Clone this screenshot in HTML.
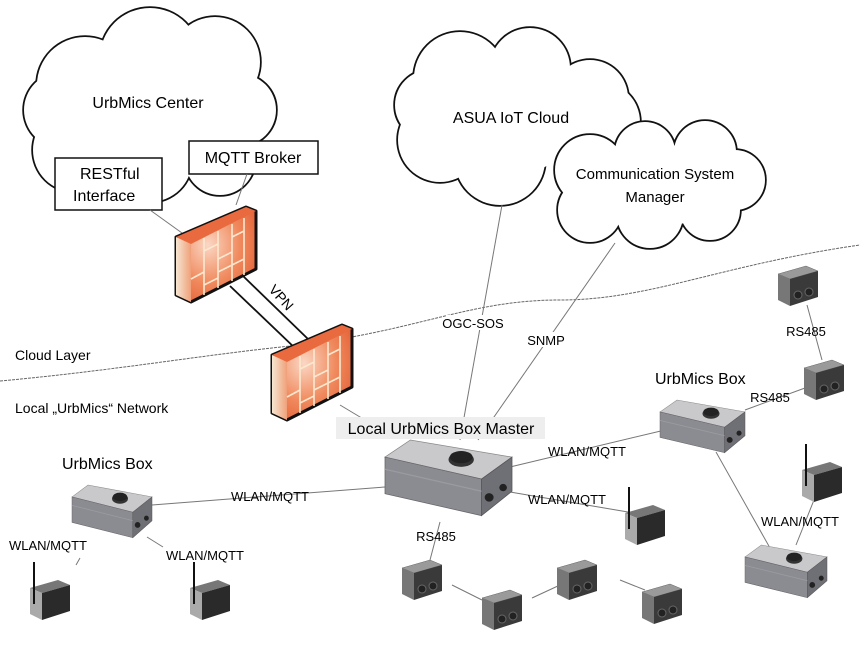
<!DOCTYPE html>
<html><head><meta charset="utf-8"><style>
html,body{margin:0;padding:0;background:#fff;}
svg{display:block;font-family:"Liberation Sans",sans-serif;}
</style></head><body>
<svg width="867" height="645" viewBox="0 0 867 645" xmlns="http://www.w3.org/2000/svg">
<defs>
<radialGradient id="fw" cx="0.4" cy="0.4" r="0.8">
<stop offset="0" stop-color="#fbd7c4"/><stop offset="0.5" stop-color="#f08a5e"/><stop offset="1" stop-color="#e0542a"/></radialGradient>
<linearGradient id="fwl" x1="0" x2="1"><stop offset="0" stop-color="#f6e6d2"/><stop offset="1" stop-color="#f0a07a"/></linearGradient>
<g id="firewall">
<polygon points="0,30 70,0 80,4 80,62 15,95 0,88" fill="url(#fw)" stroke="#111" stroke-width="3" stroke-linejoin="round"/>
<polygon points="0,30 15,37 15,95 0,88" fill="url(#fwl)"/>
<polygon points="0,30 70,0 80,4 15,37" fill="#e86a3e"/>
<g stroke="#fbe8d0" stroke-width="1.6" fill="none">
<line x1="28" y1="31" x2="28" y2="88"/><line x1="42" y1="24" x2="42" y2="81"/><line x1="56" y1="17" x2="56" y2="74"/><line x1="68" y1="11" x2="68" y2="68"/>
<line x1="28" y1="44" x2="42" y2="37"/><line x1="56" y1="30" x2="68" y2="24"/><line x1="42" y1="52" x2="56" y2="45"/><line x1="15" y1="72" x2="28" y2="65"/><line x1="56" y1="58" x2="68" y2="52"/><line x1="28" y1="78" x2="42" y2="71"/><line x1="42" y1="65" x2="56" y2="58"/>
</g>
</g>
<g id="bigbox">
<polygon points="0,14 20,0 100,14 76,32" fill="#c9c9cc" stroke="#888" stroke-width="0.6"/>
<polygon points="0,14 76,32 76,62 0,44" fill="#8b8b92" stroke="#666" stroke-width="0.6"/>
<polygon points="76,32 100,14 100,42 76,62" fill="#6f6f76" stroke="#555" stroke-width="0.6"/>
<line x1="0" y1="24" x2="76" y2="42" stroke="#9a9aa0"/>
<ellipse cx="60" cy="16" rx="10" ry="6" fill="#333"/><ellipse cx="60" cy="14" rx="9" ry="5" fill="#222"/>
<circle cx="82" cy="47" r="3.5" fill="#222"/><circle cx="93" cy="39" r="3" fill="#222"/>
</g>
<g id="sensor">
<polygon points="0,8 28,0 40,5 12,13" fill="#9a9a9a" stroke="#666" stroke-width="0.5"/>
<polygon points="0,8 12,13 12,40 0,34" fill="#777"/>
<polygon points="12,13 40,5 40,31 12,40" fill="#3a3a3a"/>
<circle cx="20" cy="29" r="4" fill="#222" stroke="#666"/><circle cx="31" cy="26" r="4" fill="#222" stroke="#666"/>
</g>
<g id="asensor">
<polygon points="0,8 28,0 40,5 12,13" fill="#777"/>
<polygon points="0,8 12,13 12,40 0,34" fill="#aaa"/>
<polygon points="12,13 40,5 40,31 12,40" fill="#2a2a2a"/>
<line x1="4" y1="-18" x2="4" y2="24" stroke="#111" stroke-width="2"/>
</g>
</defs>

<g stroke="#111" stroke-width="3.5" fill="#fff">
<circle cx="85" cy="85" r="48"/><circle cx="150" cy="58" r="50"/><circle cx="215" cy="62" r="45"/><circle cx="240" cy="110" r="36"/><circle cx="220" cy="160" r="35"/><circle cx="150" cy="160" r="42"/><circle cx="75" cy="150" r="42"/><circle cx="62" cy="110" r="38"/>
</g>
<g fill="#fff"><circle cx="85" cy="85" r="48"/><circle cx="150" cy="58" r="50"/><circle cx="215" cy="62" r="45"/><circle cx="240" cy="110" r="36"/><circle cx="220" cy="160" r="35"/><circle cx="150" cy="160" r="42"/><circle cx="75" cy="150" r="42"/><circle cx="62" cy="110" r="38"/><circle cx="150" cy="115" r="60"/></g>
<text x="148" y="108" font-size="16" text-anchor="middle">UrbMics Center</text>

<g stroke="#111" stroke-width="3.5" fill="#fff">
<circle cx="460" cy="78" r="46"/><circle cx="530" cy="68" r="40"/><circle cx="590" cy="98" r="38"/><circle cx="600" cy="122" r="40"/><circle cx="500" cy="160" r="45"/><circle cx="440" cy="140" r="42"/><circle cx="430" cy="105" r="35"/>
</g>
<g fill="#fff"><circle cx="460" cy="78" r="46"/><circle cx="530" cy="68" r="40"/><circle cx="590" cy="98" r="38"/><circle cx="600" cy="122" r="40"/><circle cx="500" cy="160" r="45"/><circle cx="440" cy="140" r="42"/><circle cx="430" cy="105" r="35"/><circle cx="515" cy="115" r="60"/></g>
<text x="511" y="123" font-size="16" text-anchor="middle">ASUA IoT Cloud</text>

<g stroke="#111" stroke-width="3.5" fill="#fff">
<circle cx="590" cy="170" r="35"/><circle cx="645" cy="152" r="30"/><circle cx="705" cy="152" r="31"/><circle cx="735" cy="180" r="30"/><circle cx="710" cy="210" r="30"/><circle cx="650" cy="215" r="33"/><circle cx="590" cy="210" r="32"/>
</g>
<g fill="#fff"><circle cx="590" cy="170" r="35"/><circle cx="645" cy="152" r="30"/><circle cx="705" cy="152" r="31"/><circle cx="735" cy="180" r="30"/><circle cx="710" cy="210" r="30"/><circle cx="650" cy="215" r="33"/><circle cx="590" cy="210" r="32"/><ellipse cx="660" cy="185" rx="80" ry="40"/></g>
<text x="655" y="179" font-size="15" text-anchor="middle">Communication System</text>
<text x="655" y="202" font-size="15" text-anchor="middle">Manager</text>

<rect x="55" y="158" width="107" height="52" fill="#fff" stroke="#111" stroke-width="1.5"/>
<text x="80" y="179" font-size="16">RESTful</text><text x="73" y="201" font-size="16">Interface</text>
<rect x="189" y="141" width="129" height="33" fill="#fff" stroke="#111" stroke-width="1.5"/>
<text x="253" y="163" font-size="16" text-anchor="middle">MQTT Broker</text>

<path d="M0,381 C120,370 200,355 300,345 C420,330 470,300 560,300 C650,300 720,265 860,245" fill="none" stroke="#666" stroke-width="1" stroke-dasharray="3,1"/>
<text x="15" y="360" font-size="14">Cloud Layer</text>
<text x="15" y="413" font-size="14">Local „UrbMics“ Network</text>

<g stroke="#777" stroke-width="1" fill="none">
<line x1="150" y1="210" x2="182" y2="233"/><line x1="247" y1="174" x2="236" y2="205"/>
<line x1="340" y1="405" x2="365" y2="420"/>
<line x1="502" y1="205" x2="460" y2="440"/><line x1="615" y1="243" x2="478" y2="440"/>
<line x1="152" y1="505" x2="385" y2="487"/>
<line x1="80" y1="558" x2="76" y2="565"/><line x1="147" y1="537" x2="163" y2="547"/>
<line x1="510" y1="467" x2="665" y2="430"/><line x1="510" y1="492" x2="628" y2="512"/>
<line x1="440" y1="522" x2="430" y2="560"/>
<line x1="452" y1="585" x2="482" y2="600"/><line x1="532" y1="598" x2="560" y2="585"/><line x1="620" y1="580" x2="645" y2="590"/>
<line x1="745" y1="410" x2="805" y2="388"/><line x1="807" y1="305" x2="822" y2="360"/>
<line x1="716" y1="452" x2="770" y2="548"/><line x1="816" y1="495" x2="796" y2="545"/>
</g>

<line x1="230" y1="286" x2="297" y2="350" stroke="#111" stroke-width="1.8"/>
<line x1="242" y1="275" x2="308" y2="339" stroke="#111" stroke-width="1.8"/>
<text x="268" y="290" font-size="14" transform="rotate(48 268 290)">VPN</text>
<use href="#firewall" x="176" y="207"/>
<use href="#firewall" x="272" y="325"/>

<g font-size="13" text-anchor="middle">
<rect x="446" y="315" width="54" height="15" fill="#fff"/><text x="473" y="328">OGC-SOS</text>
<rect x="526" y="332" width="40" height="15" fill="#fff"/><text x="546" y="345">SNMP</text>
<text x="270" y="501">WLAN/MQTT</text>
<text x="48" y="550">WLAN/MQTT</text>
<text x="205" y="560">WLAN/MQTT</text>
<text x="587" y="456">WLAN/MQTT</text>
<text x="567" y="504">WLAN/MQTT</text>
<text x="436" y="541">RS485</text>
<text x="770" y="402">RS485</text>
<text x="806" y="336">RS485</text>
<text x="800" y="526">WLAN/MQTT</text>
</g>
<rect x="336" y="417" width="209" height="22" fill="#eee"/>
<text x="441" y="434" font-size="16" text-anchor="middle">Local UrbMics Box Master</text>
<text x="62" y="469" font-size="16">UrbMics Box</text>
<text x="655" y="384" font-size="16">UrbMics Box</text>

<use href="#bigbox" transform="translate(385,440) scale(1.27,1.22)"/>
<use href="#bigbox" transform="translate(72,485) scale(0.8,0.85)"/>
<use href="#bigbox" transform="translate(660,400) scale(0.85,0.85)"/>
<use href="#bigbox" transform="translate(745,545) scale(0.82,0.85)"/>
<use href="#sensor" x="778" y="266"/>
<use href="#sensor" x="804" y="360"/>
<use href="#sensor" x="402" y="560"/>
<use href="#sensor" x="482" y="590"/>
<use href="#sensor" x="557" y="560"/>
<use href="#sensor" x="642" y="584"/>
<use href="#asensor" x="30" y="580"/>
<use href="#asensor" x="190" y="580"/>
<use href="#asensor" x="625" y="505"/>
<use href="#asensor" x="802" y="462"/>
</svg>
</body></html>
